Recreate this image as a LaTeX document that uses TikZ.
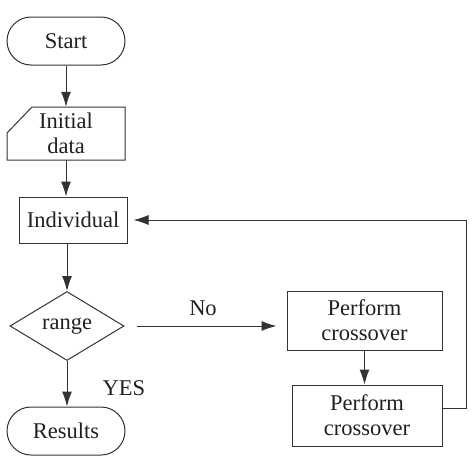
\documentclass[tikz,border=0pt]{standalone}
\usepackage{fontspec}
\setmainfont{Liberation Serif}
\usetikzlibrary{shapes.geometric,arrows.meta,calc}
\definecolor{ln}{HTML}{333333}
\definecolor{tx}{HTML}{231F20}
\tikzset{
  base/.style={draw=ln, line width=1pt, text=tx, font=\fontsize{22.5}{25}\selectfont, align=center, inner sep=0pt},
  term/.style={base, rounded corners=24pt, minimum width=118pt, minimum height=48pt},
  decis/.style={base, diamond, minimum width=114pt, minimum height=69pt},
  conn/.style={draw=ln, line width=1pt, -{Latex[length=15pt,width=10pt]}},
  lbl/.style={text=tx, font=\fontsize{22.5}{25}\selectfont, inner sep=0pt}
}
\begin{document}
\begin{tikzpicture}[x=1pt,y=-1pt]
\useasboundingbox (0,0) rectangle (474,474);
\node[term] (start) at (66,41) {Start};
\draw[draw=ln, line width=1pt] (32,107) -- (125,107) -- (125,160) -- (7,160) -- (7,133) -- cycle;
\node[lbl, align=center, minimum width=118pt, minimum height=53pt] (init) at (66,133.5) {Initial\\data};
\node[base, minimum width=108pt, minimum height=46pt] (ind) at (73,220) {Individual};
\node[decis] (range) at (67,326) {range};
\node[term] (res) at (66,431) {Results};
\node[base, minimum width=155pt, minimum height=59pt] (pc1) at (364.5,320.5) {Perform\\crossover};
\node[base, minimum width=150pt, minimum height=61pt] (pc2) at (367,415.5) {Perform\\crossover};
\node[lbl] (no) at (203,308) {No};
\node[lbl] (yes) at (124,388) {YES};
\coordinate (fb) at (466,408);
\draw[conn] (start) -- (init);
\draw[conn] (init.south) -- (init.south |- ind.north);
\draw[conn] (range.north |- ind.south) -- (range.north);
\draw[conn] (range.south) -- (res.north -| range.south);
\draw[conn, shorten <=12pt, shorten >=10pt] (range.east) -- (range.east -| pc1.west);
\draw[conn] (pc1.south) -- (pc1.south |- pc2.north);
\draw[conn, shorten >=6pt] (pc2.east |- fb) -- (fb) |- (ind.east);
\end{tikzpicture}
\end{document}
